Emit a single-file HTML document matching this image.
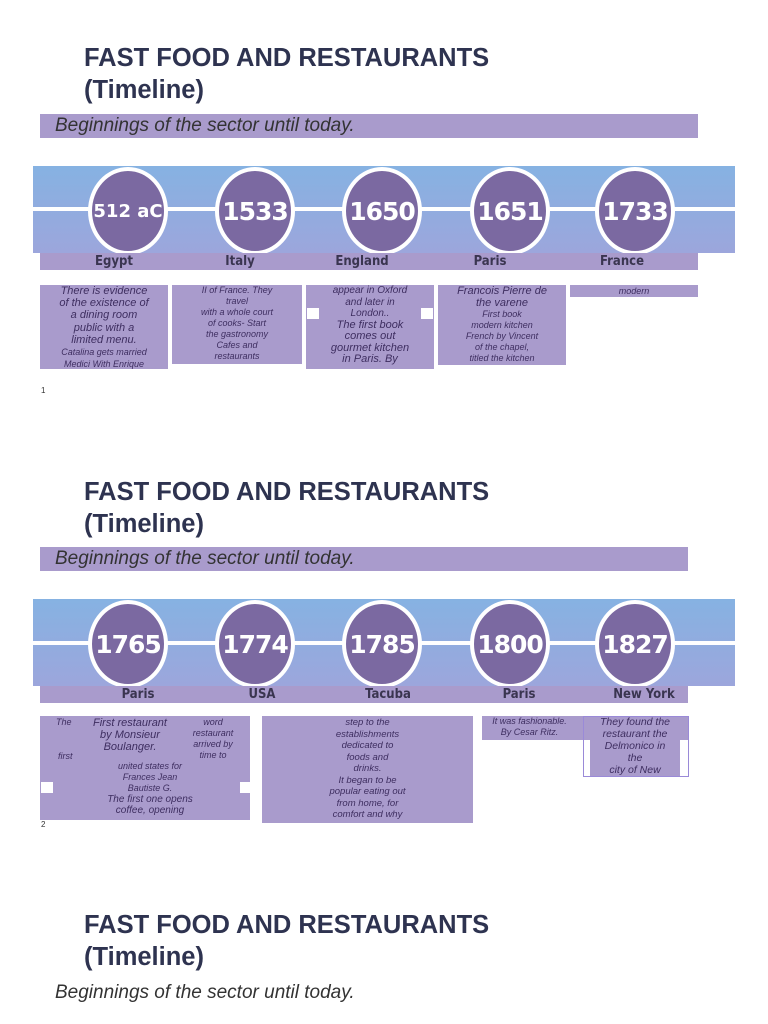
<!DOCTYPE html>
<html><head><meta charset="utf-8">
<style>
body{margin:0;width:768px;height:1024px;background:#fff;position:relative;overflow:hidden;font-family:"Liberation Sans",sans-serif;}
.a{position:absolute;}
.t{left:84px;font-size:25.5px;font-weight:bold;color:#2e3350;line-height:32px;}
.sub{left:40px;width:658px;height:24px;background:#a99bcc;font-style:italic;font-size:19px;color:#333;line-height:24px;box-sizing:border-box;padding-left:15px;}
.band{left:33px;width:702px;height:87px;background:linear-gradient(#86b2e2,#9ca6dc);}
.line{left:33px;width:702px;height:4px;background:#fff;}
.c{width:72px;height:80px;border-radius:50%;background:#7b69a1;border:4px solid #fff;color:#fff;font-weight:bold;font-size:25px;text-align:center;line-height:82px;font-family:"DejaVu Sans",sans-serif;letter-spacing:-1px;}
.lb{height:17px;background:#a99bcc;}
.lbt{font-size:13px;color:#3a3550;font-weight:bold;line-height:17px;transform:translateX(-50%);font-family:"DejaVu Sans Condensed","DejaVu Sans",sans-serif;}
.bx{background:#a99bcc;color:#3e2e60;font-style:italic;text-align:center;font-size:10px;line-height:11.5px;overflow:hidden;}
.sq{width:12px;height:11px;background:#fff;}
.pn{font-size:8px;color:#333;left:41px;}
</style></head><body>

<div class="a t" style="top:42px">FAST FOOD AND RESTAURANTS<br>(Timeline)</div>
<div class="a sub" style="top:114px">Beginnings of the sector until today.</div>
<div class="a band" style="top:166px"></div>
<div class="a line" style="top:207px"></div>
<div class="a c" style="left:88px;top:167px;font-size:18px;letter-spacing:0">512 aC</div>
<div class="a c" style="left:215px;top:167px">1533</div>
<div class="a c" style="left:342px;top:167px">1650</div>
<div class="a c" style="left:470px;top:167px">1651</div>
<div class="a c" style="left:595px;top:167px">1733</div>
<div class="a lb" style="left:40px;top:253px;width:658px"></div>
<div class="a lbt" style="left:114px;top:253px">Egypt</div>
<div class="a lbt" style="left:240px;top:253px">Italy</div>
<div class="a lbt" style="left:362px;top:253px">England</div>
<div class="a lbt" style="left:490px;top:253px">Paris</div>
<div class="a lbt" style="left:622px;top:253px">France</div>

<div class="a bx" style="left:40px;top:285px;width:128px;height:84px;font-size:11px;line-height:12.2px">There is evidence<br>of the existence of<br>a dining room<br>public with a<br>limited menu.<br><span style="font-size:9px">Catalina gets married<br>Medici With Enrique</span></div>
<div class="a bx" style="left:172px;top:285px;width:130px;height:79px;font-size:9px;line-height:11px">II of France. They<br>travel<br>with a whole court<br>of cooks- Start<br>the gastronomy<br>Cafes and<br>restaurants</div>
<div class="a bx" style="left:306px;top:285px;width:128px;height:84px;font-size:10px;line-height:11.5px">appear in Oxford<br>and later in<br>London..<br><span style="font-size:11px">The first book<br>comes out<br>gourmet kitchen<br>in Paris. By</span></div>
<div class="a sq" style="left:307px;top:308px"></div>
<div class="a sq" style="left:421px;top:308px"></div>
<div class="a bx" style="left:438px;top:285px;width:128px;height:80px;font-size:9px;line-height:11px"><span style="font-size:11px;line-height:12px">Francois Pierre de<br>the varene</span><br>First book<br>modern kitchen<br>French by Vincent<br>of the chapel,<br>titled the kitchen</div>
<div class="a bx" style="left:570px;top:285px;width:128px;height:12px;font-size:9px;line-height:12px">modern</div>
<div class="a pn" style="top:386px">1</div>

<div class="a t" style="top:476px">FAST FOOD AND RESTAURANTS<br>(Timeline)</div>
<div class="a sub" style="top:547px;width:648px">Beginnings of the sector until today.</div>
<div class="a band" style="top:599px"></div>
<div class="a line" style="top:641px"></div>
<div class="a c" style="left:88px;top:600px">1765</div>
<div class="a c" style="left:215px;top:600px">1774</div>
<div class="a c" style="left:342px;top:600px">1785</div>
<div class="a c" style="left:470px;top:600px">1800</div>
<div class="a c" style="left:595px;top:600px">1827</div>
<div class="a lb" style="left:40px;top:686px;width:648px"></div>
<div class="a lbt" style="left:138px;top:686px">Paris</div>
<div class="a lbt" style="left:262px;top:686px">USA</div>
<div class="a lbt" style="left:388px;top:686px">Tacuba</div>
<div class="a lbt" style="left:519px;top:686px">Paris</div>
<div class="a lbt" style="left:644px;top:686px">New York</div>

<div class="a bx" style="left:40px;top:716px;width:210px;height:104px">
<div class="a" style="left:16px;top:1px;font-size:9px">The</div>
<div class="a" style="left:18px;top:35px;font-size:9px">first</div>
<div class="a" style="left:45px;top:1px;width:90px;font-size:11px;line-height:12px">First restaurant<br>by Monsieur<br>Boulanger.</div>
<div class="a" style="left:148px;top:1px;width:50px;font-size:9px;line-height:11px">word<br>restaurant<br>arrived by<br>time to</div>
<div class="a" style="left:55px;top:45px;width:110px;font-size:9px;line-height:11px">united states for<br>Frances Jean<br>Bautiste G.<br><span style="font-size:10px">The first one opens<br>coffee, opening</span></div>
</div>
<div class="a sq" style="left:41px;top:782px"></div>
<div class="a sq" style="left:240px;top:782px"></div>
<div class="a bx" style="left:262px;top:716px;width:211px;height:106px;font-size:9.5px;line-height:11.5px;padding-top:1px">step to the<br>establishments<br>dedicated to<br>foods and<br>drinks.<br>It began to be<br>popular eating out<br>from home, for<br>comfort and why</div>
<div class="a bx" style="left:482px;top:716px;width:206px;height:24px;font-size:9px;line-height:11px;text-align:left"><div style="width:95px;text-align:center;padding-left:0">It was fashionable.<br>By Cesar Ritz.</div></div>
<div class="a" style="left:583px;top:716px;width:106px;height:61px;border:1px solid #9a8ad8;box-sizing:border-box"></div>
<div class="a bx" style="left:590px;top:716px;width:90px;height:60px;font-size:10.5px;line-height:12px;background:transparent"><div style="position:absolute;left:0;top:0;width:90px;height:60px;background:#a99bcc;z-index:-1"></div>They found the<br>restaurant the<br>Delmonico in<br>the<br>city of New</div>
<div class="a pn" style="top:820px">2</div>

<div class="a t" style="top:909px">FAST FOOD AND RESTAURANTS<br>(Timeline)</div>
<div class="a" style="left:55px;top:981px;font-size:19px;font-style:italic;color:#333;line-height:24px">Beginnings of the sector until today.</div>
</body></html>
